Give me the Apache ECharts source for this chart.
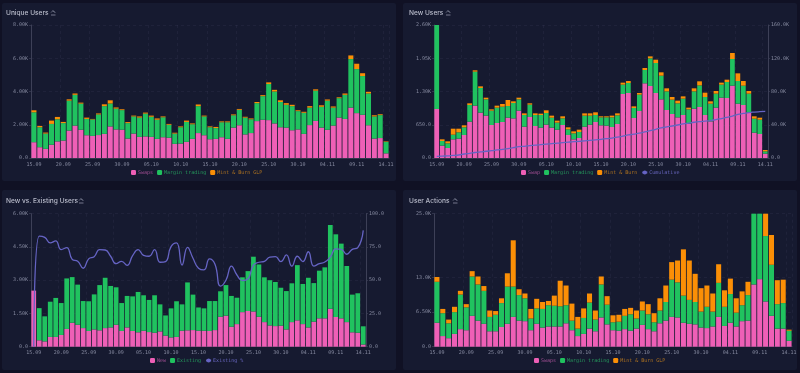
<!DOCTYPE html>
<html><head><meta charset="utf-8">
<style>html,body{margin:0;padding:0;background:#101124;overflow:hidden}#c{width:800px;height:373px}</style>
<script src="https://cdn.jsdelivr.net/npm/echarts@6/dist/echarts.min.js"></script>
</head><body><div id="c"></div>
<script>
const dates=['15.09','16.09','17.09','18.09','19.09','20.09','21.09','22.09','23.09','24.09','25.09','26.09','27.09','28.09','29.09','30.09','01.10','02.10','03.10','04.10','05.10','06.10','07.10','08.10','09.10','10.10','11.10','12.10','13.10','14.10','15.10','16.10','17.10','18.10','19.10','20.10','21.10','22.10','23.10','24.10','25.10','26.10','27.10','28.10','29.10','30.10','31.10','01.11','02.11','03.11','04.11','05.11','06.11','07.11','08.11','09.11','10.11','11.11','12.11','13.11','14.11'];
// Unique Users (thousands)
const uniqueSwaps=[.95,.65,.55,.8,1.0,1.05,1.65,1.95,1.7,1.37,1.33,1.38,1.45,1.9,1.72,1.7,1.17,1.47,1.27,1.3,1.27,1.15,1.25,1.22,.85,.87,.97,1.15,1.5,1.37,1.13,1.15,1.25,1.15,1.83,1.97,1.42,1.5,2.22,2.3,2.28,2.08,1.85,1.83,1.67,1.72,1.45,1.98,2.23,1.83,1.7,1.95,2.43,2.35,3.03,2.7,2.6,1.97,1.17,1.2,.28];
const uniqueMargin=[1.8,1.2,.92,1.25,1.33,1.05,1.8,1.85,1.57,.98,.99,1.24,1.67,1.38,1.25,1.18,.93,1.03,1.16,1.37,1.21,1.15,1.2,.78,.62,.98,1.2,.88,1.62,1.13,.72,.65,.9,1.0,.74,.93,1.01,.83,1.08,1.42,2.17,1.92,1.52,1.37,1.45,1.1,1.27,1.05,1.82,1.25,1.75,1.08,1.17,1.45,2.92,2.65,2.33,1.91,1.33,1.38,.69];
const uniqueMint=[.12,.08,.06,.2,.14,.07,.08,.08,.06,.08,.03,.06,.11,.19,.07,.05,.06,.05,.07,.06,.07,.08,.05,.05,.05,.05,.08,.05,.1,.05,.05,.07,.05,.05,.05,.05,.05,.05,.07,.06,.1,.1,.1,.1,.08,.05,.06,.09,.08,.09,.07,.07,.05,.08,.22,.32,.17,.1,.07,.05,.03];
// New Users
const newSwap=[958,241,195,365,378,450,710,1023,886,828,645,684,704,788,775,925,612,801,626,593,652,593,554,645,450,365,391,612,652,704,639,632,606,665,1251,1271,782,919,1460,1407,1271,1147,938,860,795,841,671,964,997,841,717,984,1179,1173,1414,1062,1036,886,495,469,85];
const newMargin=[1800,91,92,91,124,150,326,665,482,319,280,300,299,228,300,222,229,242,215,248,228,195,137,130,110,117,117,216,176,137,156,163,189,169,183,195,195,319,260,541,586,462,365,280,274,319,280,339,423,351,345,274,255,313,521,443,378,372,274,280,45];
const newMint=[0,33,39,117,71,39,33,26,33,32,26,39,53,118,33,32,32,26,32,26,52,40,39,40,40,39,46,45,45,52,20,20,33,39,39,39,33,33,39,39,65,66,59,52,52,45,33,59,79,85,46,52,39,45,118,150,91,52,46,39,26];
const newCumulative=[2.0,2.3,2.6,3.1,3.6,4.8,5.6,6.6,7.3,8.1,8.8,9.7,10.4,11.2,12.4,13.6,14.1,14.9,15.5,16.2,16.8,17.3,17.8,18.4,19.0,19.6,20.1,20.7,21.3,21.9,22.5,23.2,24.0,25.0,26.3,27.7,28.7,29.8,31.3,32.9,34.5,36.2,37.4,38.5,39.7,41.0,42.0,43.0,43.8,44.4,45.0,46.2,47.5,48.8,50.5,52.5,53.6,54.7,55.3,55.7,56.0];
// New vs. Existing (thousands, percent)
const nveNew=[2.53,.29,.24,.44,.44,.53,.8,1.08,.99,.84,.71,.78,.74,.84,.87,.99,.71,.87,.71,.65,.72,.66,.63,.69,.5,.42,.44,.72,.74,.75,.72,.72,.71,.75,1.35,1.4,.9,1.02,1.56,1.61,1.59,1.35,1.11,.96,.93,.95,.78,1.11,1.19,1.02,.87,1.13,1.28,1.28,1.71,1.34,1.28,1.11,.65,.63,.1];
const nveExisting=[0,1.45,1.13,1.59,1.76,1.44,2.28,2.06,1.81,1.22,1.34,1.58,2.04,2.27,1.87,1.69,1.26,1.42,1.56,1.82,1.6,1.45,1.69,1.22,.91,1.31,1.61,1.19,2.16,1.6,1.05,1.01,1.35,1.31,1.15,1.38,1.39,1.19,1.57,1.8,2.47,2.36,2.02,2.04,1.99,1.71,1.73,1.75,2.49,1.81,2.24,1.74,2.15,2.3,3.78,3.73,3.37,2.53,1.7,1.78,.82];
const nvePct=[0,83.2,82.2,78,79.5,73,74.5,65.7,64.2,59,66,67.7,73,72.7,68,62.4,64.2,61.2,68.4,73,68.7,68,73,63.5,64,75.2,78,61.4,74.7,66.5,59,57.7,66,62,45.6,50,60.6,53.9,49.7,50.9,61.4,63.5,64.2,67.4,67.7,64,69,60.6,68,64,71.4,60.6,62.4,63.7,67.4,73.5,73.2,69.5,73.2,74.5,87.5];
// User Actions (thousands)
const actSwaps=[4.5,2.0,1.6,2.4,3.3,3.1,5.8,4.9,4.3,2.9,2.9,3.7,4.3,5.6,4.9,4.8,3.1,4.3,3.6,3.8,3.8,3.8,4.4,3.1,2.0,2.4,3.4,2.9,5.5,4.2,3.1,3.0,3.3,3.0,3.4,4.1,3.3,2.9,4.4,4.9,5.6,5.5,4.5,4.3,4.2,3.6,3.5,3.8,5.6,3.9,4.5,3.8,4.8,4.9,11.7,12.7,8.5,5.8,3.4,3.4,1.1];
const actMargin=[7.7,4.3,2.8,4.1,6.5,4.3,7.4,6.8,6.2,2.7,3.1,4.5,7.0,5.7,4.8,4.3,2.2,2.9,3.5,4.0,3.9,3.8,3.4,1.8,1.4,3.0,4.9,2.2,6.2,3.7,1.5,1.7,2.5,3.1,1.9,2.7,2.8,1.7,2.4,3.5,7.0,6.6,5.1,4.5,4.2,3.0,4.0,2.8,6.4,3.6,5.4,2.6,3.0,4.8,15.0,14.0,12.3,9.6,4.6,4.8,1.9];
const actMint=[.9,.8,.7,1.0,.7,.6,1.0,1.5,.9,1.2,.7,.9,2.5,8.7,1.1,.9,1.8,1.8,1.3,.8,1.9,4.8,3.7,3.2,2.2,1.8,1.7,1.7,1.5,1.6,1.3,1.3,1.3,1.2,1.5,1.7,1.9,1.7,2.3,3.1,3.3,4.1,8.7,7.4,5.3,4.4,4.0,3.4,3.5,3.1,2.9,2.7,2.6,2.5,3.0,3.0,6.0,5.6,4.5,4.4,.2];
// Tick labels
const uniqueTicks=['0.0','2.00K','4.00K','6.00K','8.00K'];
const newTicks=['0.0','650.0','1.30K','1.95K','2.60K'];
const cumulativeTicks=['0.0','40.0K','80.0K','120.0K','160.0K'];
const nveTicks=['0.0','1.50K','3.00K','4.50K','6.00K'];
const pctTicks=['0.0','25.0','50.0','75.0','100.0'];
const actionTickValues=[0,6.5,13,25];
const actionTicks=['0.0','6.50K','13.0K','25.0K'];

const PINK='#ee5fb6',GREEN='#20c25f',ORANGE='#fb8f06',PURPLE='#6664c4';
const DIM={[PINK]:'#a04e92',[GREEN]:'#25985c',[ORANGE]:'#ad7220',[PURPLE]:'#6866bf'};
const MONO='"DejaVu Sans Mono",monospace';
const grids=[{left:31,top:25,width:358,height:133},{left:434,top:25,width:334,height:133},{left:31,top:213.7,width:335,height:133},{left:434,top:213.7,width:358,height:133}];
const panels=[[2,3,394,178],[403,3,394,178],[2,190,394,180],[403,190,394,180]];
const titles=[['Unique Users',6,9.5,51],['New Users',409,9.5,446],['New vs. Existing Users',6,197.5,79],['User Actions',409,197.5,453]];
const legends=[[['Swaps',PINK],['Margin trading',GREEN],['Mint & Burn GLP',ORANGE]],[['Swap',PINK],['Margin trading',GREEN],['Mint & Burn',ORANGE],['Cumulative',PURPLE]],[['New',PINK],['Existing',GREEN],['Existing %',PURPLE]],[['Swaps',PINK],['Margin trading',GREEN],['Mint & Burn GLP',ORANGE]]];
const legendPos=[[131,170],[521,170],[150,358],[534,358]];
const AXC='#3d4057',SPL='rgba(130,135,170,0.13)',LBL='#868aa0';

const xAxis=grids.map((g,i)=>({type:'category',gridIndex:i,data:dates,
  axisLine:{lineStyle:{color:AXC,width:.7}},axisTick:{show:false,alignWithLabel:true,interval:4},
  axisLabel:{interval:4,color:LBL,fontFamily:MONO,fontSize:5,margin:4},
  splitLine:{show:true,interval:4,lineStyle:{color:SPL,type:[3,3],width:.7}}}));
function yA(grid,max,interval,ticks,pos,extra){
  return Object.assign({type:'value',gridIndex:grid,min:0,max,interval,position:pos||'left',
    axisLine:{show:true,lineStyle:{color:AXC,width:1}},axisTick:{show:true,length:2,lineStyle:{color:AXC,width:.7}},
    axisLabel:{color:LBL,fontFamily:MONO,fontSize:5,margin:3,formatter:(v,i)=>ticks[Math.round(v/interval)]},
    splitLine:{show:pos!=='right',lineStyle:{color:SPL,type:[3,3],width:.7}}},extra||{});
}
const yAxis=[
  yA(0,8,2,uniqueTicks),
  yA(1,2600,650,newTicks),
  yA(1,160,40,cumulativeTicks,'right'),
  yA(2,6,1.5,nveTicks),
  yA(2,100,25,pctTicks,'right'),
  Object.assign(yA(3,25,6.5,actionTicks),{interval:null,
    axisLabel:{color:LBL,fontFamily:MONO,fontSize:5,margin:3,customValues:actionTickValues,formatter:v=>actionTicks[actionTickValues.indexOf(v)]},
    axisTick:{show:true,length:2,customValues:actionTickValues,lineStyle:{color:AXC,width:.7}}})
];
function bar(name,data,color,xi,yi){return {type:'bar',name,data,stack:'s'+xi,xAxisIndex:xi,yAxisIndex:yi,barWidth:'86%',itemStyle:{color},animation:false,silent:true};}
function line(name,data,xi,yi){return {type:'line',name,data,xAxisIndex:xi,yAxisIndex:yi,smooth:true,symbol:'circle',symbolSize:3,showSymbol:false,z:5,lineStyle:{color:PURPLE,width:1.3},itemStyle:{color:PURPLE},animation:false,silent:true};}
const series=[
  bar('Swaps',uniqueSwaps,PINK,0,0),bar('Margin trading',uniqueMargin,GREEN,0,0),bar('Mint & Burn GLP',uniqueMint,ORANGE,0,0),
  bar('Swap',newSwap,PINK,1,1),bar('Margin trading',newMargin,GREEN,1,1),bar('Mint & Burn',newMint,ORANGE,1,1),line('Cumulative',newCumulative,1,2),
  bar('New',nveNew,PINK,2,3),bar('Existing',nveExisting,GREEN,2,3),line('Existing %',nvePct,2,4),
  bar('Swaps',actSwaps,PINK,3,5),bar('Margin trading',actMargin,GREEN,3,5),bar('Mint & Burn GLP',actMint,ORANGE,3,5)
];
const graphic=panels.map(p=>({type:'rect',z:-10,silent:true,shape:{x:p[0],y:p[1],width:p[2],height:p[3],r:2},style:{fill:'#161a30'}}));
titles.forEach(t=>{const x=t[3],y=t[2]+.5;
  graphic.push({type:'polyline',silent:true,z:10,shape:{points:[[x,y+2.6],[x+2,y+.6],[x+4,y+2.6],[x+2,y+.6]]},style:{stroke:'#8d90a5',fill:null,lineWidth:.7}});
  graphic.push({type:'line',silent:true,z:10,shape:{x1:x,y1:y+5,x2:x+4.5,y2:y+5},style:{stroke:'#8d90a5',lineWidth:.8}});
});
const option={
  backgroundColor:'#101124',animation:false,
  title:titles.map(t=>({text:t[0],left:t[1],top:t[2],padding:0,textStyle:{color:'#b9bccb',fontFamily:'Inter,sans-serif',fontSize:6.6,fontWeight:500}})),
  grid:grids,xAxis,yAxis,series,graphic,
  legend:legends.map((l,i)=>({left:legendPos[i][0],top:legendPos[i][1],padding:0,itemWidth:5,itemHeight:5,itemGap:4,selectedMode:false,
    data:l.map(d=>({name:d[0],textStyle:{color:DIM[d[1]],fontFamily:MONO,fontSize:5,padding:[0,0,0,-3]}}))}))
};
const chart=echarts.init(document.getElementById('c'),null,{width:800,height:373,renderer:'canvas'});
chart.setOption(option);
</script></body></html>
